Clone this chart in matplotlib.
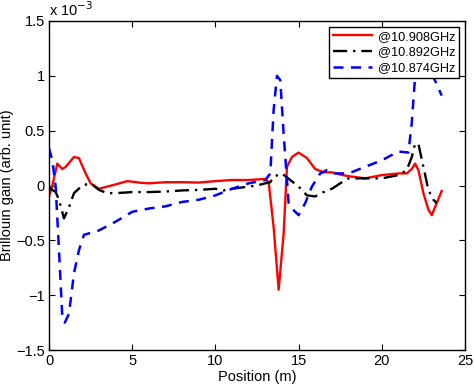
"""Brillouin gain vs position at three pump frequencies."""
import matplotlib
matplotlib.use("Agg")
import matplotlib.pyplot as plt
from matplotlib.ticker import FuncFormatter

plt.rcParams['font.family'] = ['Liberation Sans', 'DejaVu Sans']
plt.rcParams['font.size'] = 10.5

# gain values in units of 1e-3
x_red = [0, 0.2, 0.5, 0.8, 1.0, 1.5, 1.8, 2.2, 2.5, 3.0, 3.5, 4.0, 4.7, 5.5, 6.0,
         7.0, 8.0, 9.0, 10.0, 11.0, 12.0, 13.0, 13.2, 13.5, 13.8, 14.1, 14.3, 14.6,
         15.0, 15.5, 16.0, 16.5, 17.0, 17.5, 18.0, 19.0, 20.0, 21.0, 21.5, 21.8,
         22.0, 22.2, 22.5, 22.8, 23.0, 23.3, 23.6]
y_red = [-0.1, 0.0, 0.2, 0.15, 0.17, 0.26, 0.25, 0.11, 0.02, -0.03, -0.01, 0.01,
         0.04, 0.025, 0.02, 0.03, 0.03, 0.027, 0.04, 0.05, 0.05, 0.06, 0.03, -0.38,
         -0.95, -0.44, 0.17, 0.26, 0.3, 0.25, 0.15, 0.12, 0.12, 0.1, 0.085, 0.065,
         0.095, 0.11, 0.11, 0.15, 0.2, 0.14, -0.07, -0.22, -0.27, -0.16, -0.05]

x_black = [0, 0.4, 0.6, 0.9, 1.2, 1.5, 2.0, 2.5, 3.0, 3.5, 4.0, 5.0, 6.0, 7.0, 8.0,
           9.0, 10.0, 10.5, 11.0, 12.0, 12.5, 13.0, 13.3, 13.5, 14.0, 14.5, 15.0,
           15.5, 16.0, 16.5, 17.0, 17.5, 18.0, 19.0, 20.0, 21.0, 21.5, 21.8, 22.0,
           22.2, 22.5, 22.8, 23.1, 23.3]
y_black = [-0.02, -0.06, -0.13, -0.3, -0.2, -0.07, 0.0, 0.02, -0.04, -0.07, -0.07,
           -0.06, -0.06, -0.055, -0.045, -0.04, -0.03, -0.045, -0.03, -0.01, 0.0,
           0.02, 0.03, 0.08, 0.11, 0.05, -0.01, -0.09, -0.1, -0.06, -0.03, 0.02,
           0.065, 0.065, 0.065, 0.095, 0.14, 0.26, 0.38, 0.38, 0.17, -0.04, -0.13,
           -0.16]

x_blue = [0, 0.2, 0.4, 0.6, 0.8, 0.95, 1.2, 1.5, 1.8, 2.1, 3.0, 4.0, 5.0, 6.0, 7.0,
          8.0, 9.0, 10.0, 11.0, 12.0, 13.0, 13.3, 13.5, 13.7, 13.9, 14.1, 14.4, 14.6,
          15.0, 15.4, 15.8, 16.3, 16.7, 17.2, 18.0, 19.0, 20.0, 21.0, 21.6, 21.8,
          22.0, 22.3, 23.1, 23.6]
y_blue = [0.34, 0.23, -0.01, -0.59, -1.2, -1.25, -1.17, -0.8, -0.59, -0.45, -0.41,
          -0.33, -0.24, -0.21, -0.19, -0.15, -0.13, -0.09, -0.03, 0.02, 0.05, 0.11,
          0.69, 1.0, 0.96, 0.47, -0.16, -0.21, -0.27, -0.16, -0.01, 0.11, 0.14, 0.11,
          0.11, 0.17, 0.23, 0.31, 0.3, 0.57, 0.99, 1.05, 0.99, 0.82]

labels = ["@10.908GHz", "@10.892GHz", "@10.874GHz"]

fig = plt.figure(figsize=(4.74, 3.84), dpi=100)
ax = fig.add_axes([49 / 474, 1 - 350 / 384, 416 / 474, 329 / 384])

ax.plot(x_red, y_red, color='#ff0000', lw=1.7, ls='-', label=labels[0])
ax.plot(x_black, y_black, color='black', lw=1.7, ls=(0, (6, 2.5, 1, 2.5)), label=labels[1])
ax.plot(x_blue, y_blue, color='#0000ff', lw=1.8, ls=(0, (4, 3)), label=labels[2])

ax.set_xlim(0, 25)
ax.set_ylim(-1.5, 1.5)
ax.set_xticks([0, 5, 10, 15, 20, 25])
ax.set_yticks([-1.5, -1, -0.5, 0, 0.5, 1, 1.5])
ax.yaxis.set_major_formatter(FuncFormatter(lambda v, p: ('%g' % v).replace('-', '\u2212')))
ax.tick_params(direction='in', top=True, right=True, length=4, width=0.8, pad=3)
for s in ax.spines.values():
    s.set_linewidth(1.0)

ax.set_xlabel("Position (m)", labelpad=1)
fig.text(7.5 / 474, 1 - 185.5 / 384, "Brillouin gain (arb. unit)", rotation=90,
         ha='center', va='center', fontsize=10.5)
fig.text(49 / 474, 1 - 16 / 384, "x 10$^{-3}$", ha='left', va='baseline', fontsize=10.5)

leg = ax.legend(loc='upper right', fancybox=False, framealpha=1, edgecolor='black',
                fontsize=9.2, handlelength=3.0, borderpad=0.3, labelspacing=0.3,
                handletextpad=0.5, borderaxespad=0.45)
leg.get_frame().set_linewidth(1.0)

fig.savefig("out.png", dpi=100, facecolor='white')
